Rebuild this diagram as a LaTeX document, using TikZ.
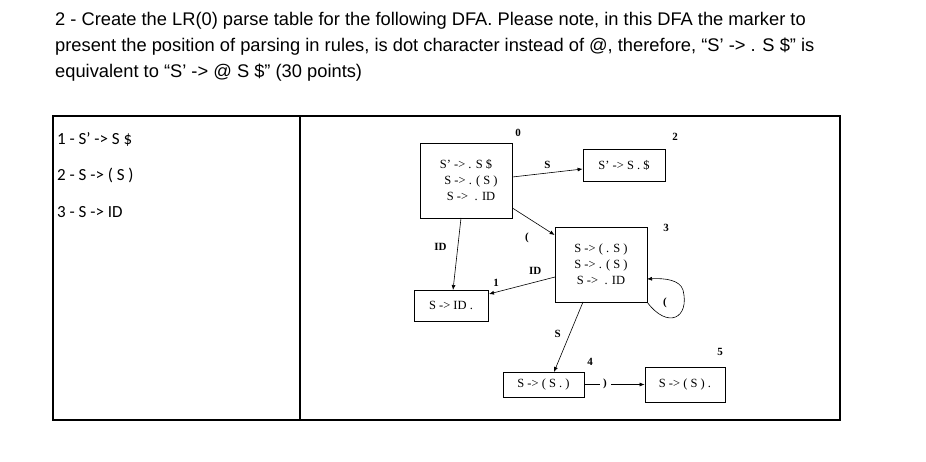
\documentclass[tikz,border=0pt]{standalone}
\usepackage{fontspec}
\setmainfont{Liberation Serif}
\newfontfamily\hsans{Liberation Sans}
\newfontfamily\csans{Carlito}
\usetikzlibrary{arrows.meta}
\begin{document}
\begin{tikzpicture}[x=1pt,y=-1pt,
  hd/.style={anchor=west,inner sep=0,font=\hsans\fontsize{18.3}{22}\selectfont},
  rl/.style={anchor=west,inner sep=0,font=\csans\fontsize{17}{21}\selectfont},
  st/.style={draw,thick,inner sep=0,font=\fontsize{12.5}{16}\selectfont,align=center},
  lb/.style={inner sep=1pt,font=\fontsize{11}{13}\selectfont\bfseries},
  ar/.style={draw,-{Latex[length=5pt,width=4pt]},semithick}]
\useasboundingbox (0,0) rectangle (926,462);
\fill[white] (0,0) rectangle (926,462);
\node[hd] (h1) at (55,21) {2 - Create the LR(0) parse table for the following DFA. Please note, in this DFA the marker to};
\node[hd] (h2) at (55,47) {present the position of parsing in rules, is dot character instead of @, therefore, “S’ -> . S \$” is};
\node[hd] (h3) at (55,73) {equivalent to “S’ -> @ S \$” (30 points)};
\draw[line width=1.2pt] (53,116) rectangle (840,420);
\draw[line width=1.2pt] (300,116) -- (300,420);
\node[rl] (r1) at (57,139) {1 - S’ -> S \$};
\node[rl] (r2) at (57,175) {2 - S -> ( S )};
\node[rl] (r3) at (57,212) {3 - S -> ID};
% states
\node[st,minimum width=92,minimum height=75] (s0) at (466,180.5) {S\symbol{39} -> . S \$\\\;\; S -> . ( S )\\\;\; S -> \;. ID};
\node[st,minimum width=82,minimum height=32] (s2) at (624,165) {S\symbol{39} -> S . \$};
\node[st,minimum width=92,minimum height=75] (s3) at (601,264.5) {S -> ( . S )\\S -> . ( S )\\S -> \;. ID};
\node[st,minimum width=74,minimum height=31] (s1) at (451,305.5) {S -> ID .};
\node[st,minimum width=81,minimum height=25] (s4) at (543.5,384.5) {S -> ( S . )};
\node[st,minimum width=80,minimum height=35] (s5) at (685,384.5) {S -> ( S ) .};
\node[lb] (n0) at (518,133) {0};
\node[lb] (n2) at (675,137) {2};
\node[lb] (n3) at (666,228) {3};
\node[lb] (n1) at (496,283) {1};
\node[lb] (n4) at (590,362) {4};
\node[lb] (n5) at (720,352) {5};
% edges
\draw[ar] (s0.east|-0,177) -- node[lb,above=3pt,pos=0.5]{S} (s2.west|-0,169);
\draw[ar] (s0.south east|-0,208) -- (s3.north west|-0,235);
\node[lb] (lp1) at (527,238) {(};
\draw[ar] (461,218) -- node[lb,pos=0.4,left=10pt]{ID} (453,290);
\draw[ar] (555,277) -- node[lb,pos=0.3,above=6pt]{ID} (489,294);
\draw[ar] (583,302) -- node[lb,pos=0.45,left=8pt]{S} (554,372);
\draw[ar] (647,302) .. controls (668,330) and (690,318) .. (683,290) .. controls (680,280) and (665,278) .. (647,279);
\node[lb] (lp2) at (665,303) {(};
\draw[semithick] (s4.east) -- (600,384.5);
\node[lb] (rp) at (605,384) {)};
\draw[ar] (611,384.5) -- (s5.west);
\end{tikzpicture}
\end{document}
